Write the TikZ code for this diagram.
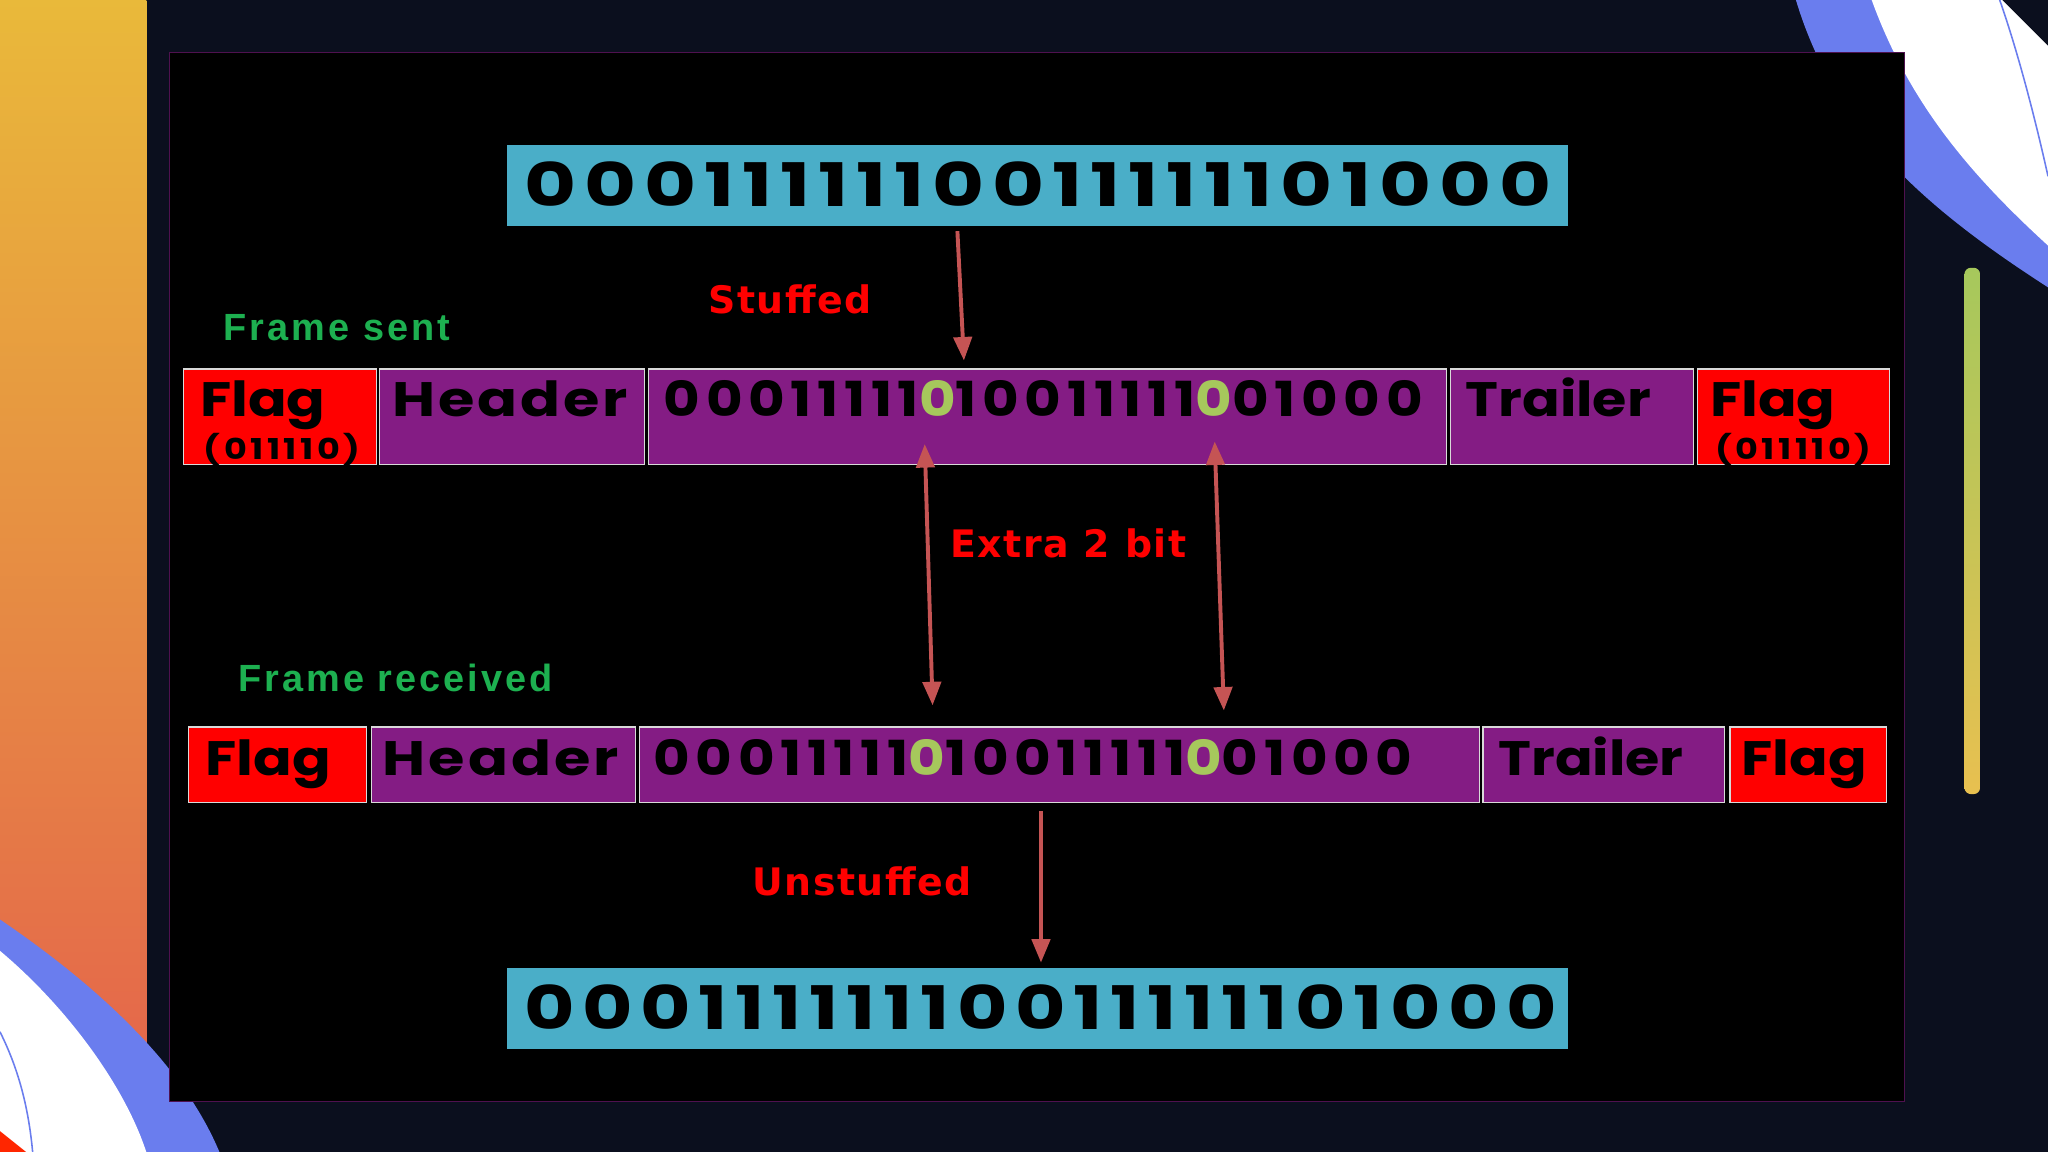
\documentclass[tikz,border=0pt]{standalone}
\usepackage{fontspec}
\setmainfont{Poppins}
\newfontfamily\spA{Poppins}[LetterSpace=10]
\newfontfamily\spH{Poppins}[LetterSpace=5]
\newfontfamily\labR{DejaVu Sans}[LetterSpace=4]
\newfontfamily\labG{Liberation Sans}[LetterSpace=8]
\newcommand{\myw}[2]{\scalebox{#1}[1]{#2}}
\usetikzlibrary{arrows.meta}
\definecolor{bg}{HTML}{0B0F1E}
\definecolor{cy}{HTML}{4AAEC8}
\definecolor{pu}{HTML}{841C84}
\definecolor{rd}{HTML}{FF0000}
\definecolor{lg}{HTML}{A6C85C}
\definecolor{ar}{HTML}{C55454}
\definecolor{gr}{HTML}{1DB050}
\definecolor{bl}{HTML}{6A7DEE}
\begin{document}
\begin{tikzpicture}[x=1pt,y=-1pt,
  cell/.style={draw=white!70!gray,line width=1pt,inner sep=0pt,minimum height=#1,anchor=north west,text=black},
  bits/.style={fill=cy,inner sep=0pt,minimum width=812pt,minimum height=62pt,anchor=north west},
  bitstext/.style={inner sep=0pt,anchor=base west,font=\spA\bfseries\fontsize{46}{46}\selectfont},
  lblR/.style={font=\labR\bfseries\fontsize{29}{29}\selectfont,text=rd},
  lblG/.style={font=\labG\bfseries\fontsize{29}{29}\selectfont,text=gr},
  arr/.style={draw=ar,line width=3pt,-{Triangle[length=18pt,width=14pt]}},
  darr/.style={draw=ar,line width=3pt,{Triangle[length=18pt,width=14pt]}-{Triangle[length=18pt,width=14pt]}}]
\useasboundingbox (0,0) rectangle (1568,882);
\fill[bg] (0,0) rectangle (1568,882);
\shade[top color={rgb,255:red,233;green,185;blue,58}, bottom color={rgb,255:red,228;green,96;blue,76}] (0,0) rectangle (112,882);
% bottom-left decoration
\fill[bl] (0,704) .. controls (75,755) and (140,815) .. (168,882) -- (0,882) -- cycle;
\fill[white] (0,728) .. controls (50,770) and (95,830) .. (112,882) -- (0,882) -- cycle;
\draw[bl,line width=1.2pt] (0,790) .. controls (15,820) and (22,850) .. (25,882);
\fill[rd!70!orange] (0,866) -- (20,882) -- (0,882) -- cycle;
% top-right decoration
\fill[bl] (1375,0) .. controls (1405,100) and (1475,160) .. (1568,220) -- (1568,0) -- cycle;
\fill[white] (1433,0) .. controls (1462,80) and (1510,135) .. (1568,188) -- (1568,0) -- cycle;
\draw[bl,line width=1.2pt] (1531,0) .. controls (1545,40) and (1558,90) .. (1568,135);
\fill[bg] (1533,0) -- (1568,0) -- (1568,35) -- cycle;
% panel
\fill[black] (130,40) rectangle (1458,843);
\draw[pu!60!black,line width=0.6pt] (130,40) rectangle (1458,843);
% side bar
\shade[top color=lg, bottom color={rgb,255:red,232;green,192;blue,80}, rounded corners=5pt] (1504,205) rectangle (1516,608);
% top and bottom bit boxes
\node[bits] (top) at (388,111) {};
\node[bits] (bot) at (388,741) {};
\node[bitstext] (topt) at (401,158) {\myw{1.33}{0001111110011111101000}};
\node[bitstext] (bott) at (401,788) {\myw{1.29}{00011111110011111101000}};
% row 1
\begin{scope}[every node/.append style={cell=73pt}]
\node[fill=rd,minimum width=148pt] (f1) at (140,282) {};
\node[fill=pu,minimum width=203pt] (h1) at (290,282) {};
\node[fill=pu,minimum width=611pt] (d1) at (496,282) {};
\node[fill=pu,minimum width=186pt] (t1) at (1110,282) {};
\node[fill=rd,minimum width=147pt] (g1) at (1299,282) {};
\end{scope}
\begin{scope}[every node/.append style={cell=58pt}]
\node[fill=rd,minimum width=136pt] (f2) at (144,556) {};
\node[fill=pu,minimum width=202pt] (h2) at (284,556) {};
\node[fill=pu,minimum width=643pt] (d2) at (489,556) {};
\node[fill=pu,minimum width=185pt] (t2) at (1135,556) {};
\node[fill=rd,minimum width=120pt] (g2) at (1324,556) {};
\end{scope}
\tikzset{big/.style={font=\bfseries\fontsize{37}{37}\selectfont,inner sep=0pt,anchor=base west},
  sp/.style={font=\spA\bfseries\fontsize{37}{37}\selectfont},
  small/.style={font=\spA\bfseries\fontsize{22}{22}\selectfont,inner sep=0pt,anchor=base}}
\node[big] (tf1) at (153,319) {\myw{1.18}{Flag}};
\node[small] (cf1) at (216,352) {\myw{1.22}{(011110)}};
\node[big,font=\spH\bfseries\fontsize{37}{37}\selectfont] (th1) at (300,319) {\myw{1.22}{Header}};
\node[big,sp] (td1) at (508,319) {\myw{1.165}{00011111{\color{lg}0}10011111{\color{lg}0}01000}};
\node[big] (tt1) at (1122,319) {\myw{1.15}{Trailer}};
\node[big] (tg1) at (1309,319) {\myw{1.18}{Flag}};
\node[small] (cg1) at (1373,352) {\myw{1.22}{(011110)}};
\node[big] (tf2) at (157,594) {\myw{1.18}{Flag}};
\node[big,font=\spH\bfseries\fontsize{37}{37}\selectfont] (th2) at (293,594) {\myw{1.22}{Header}};
\node[big,sp] (td2) at (500,594) {\myw{1.165}{00011111{\color{lg}0}10011111{\color{lg}0}01000}};
\node[big] (tt2) at (1147,594) {\myw{1.15}{Trailer}};
\node[big] (tg2) at (1333,594) {\myw{1.18}{Flag}};
% labels
\node[lblR] (ls) at (605,229) {Stuffed};
\node[lblG] (lfs) at (258,251) {Frame sent};
\node[lblR] (le) at (818,416) {Extra 2 bit};
\node[lblG] (lfr) at (303,519) {Frame received};
\node[lblR] (lu) at (660,675) {Unstuffed};
% arrows
\coordinate (a1s) at (733,177); \coordinate (a1e) at (738,276);
\coordinate (a2s) at (708,340); \coordinate (a2e) at (714,540);
\coordinate (a3s) at (930,338); \coordinate (a3e) at (937,544);
\coordinate (a4s) at (797,621); \coordinate (a4e) at (797,737);
\draw[arr] (a1s) -- (a1e);
\draw[darr] (a2s) -- (a2e);
\draw[darr] (a3s) -- (a3e);
\draw[arr] (a4s) -- (a4e);
\end{tikzpicture}
\end{document}
